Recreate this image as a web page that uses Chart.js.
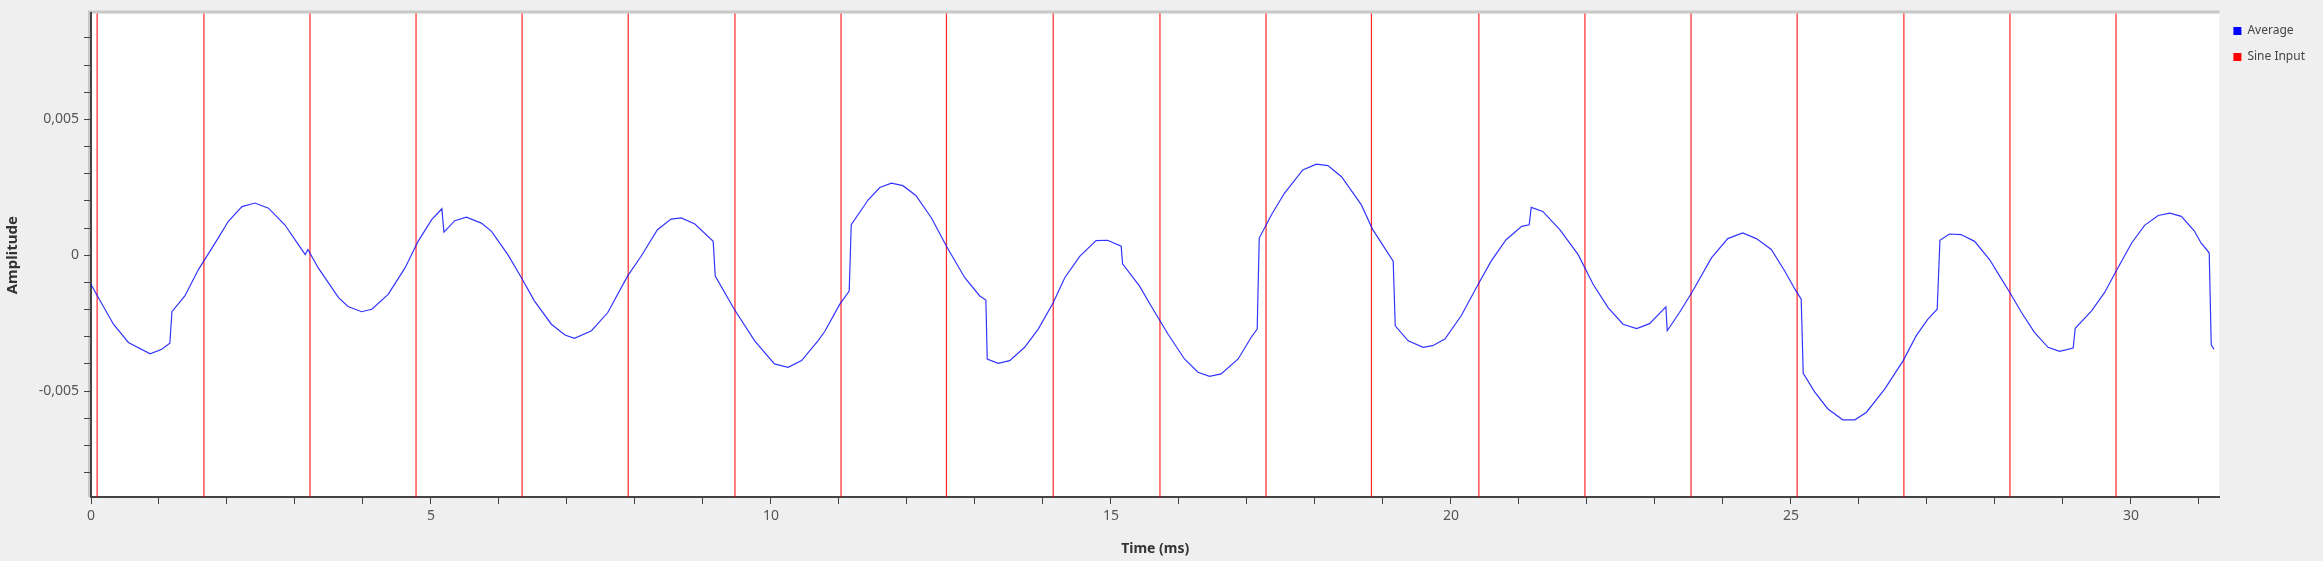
<!DOCTYPE html>
<html><head><meta charset="utf-8">
<script src="https://cdn.jsdelivr.net/npm/chart.js@4.4.1/dist/chart.umd.min.js"></script>
<style>html,body{margin:0;padding:0;background:#efefef;}#wrap{width:2323px;height:561px;}</style>
</head><body><div id="wrap"><canvas id="c"></canvas></div>
<script>
const avgTime = [0.00,0.08,0.33,0.55,0.87,1.04,1.16,1.19,1.38,1.58,1.87,2.02,2.22,2.41,2.61,2.85,3.05,3.15,3.19,3.34,3.64,3.78,3.98,4.13,4.37,4.62,4.81,5.01,5.16,5.19,5.35,5.52,5.74,5.89,6.13,6.33,6.52,6.77,6.97,7.11,7.36,7.60,7.89,8.09,8.33,8.53,8.68,8.88,9.15,9.18,9.46,9.76,10.05,10.25,10.45,10.69,10.79,11.01,11.15,11.18,11.43,11.60,11.77,11.94,12.13,12.36,12.58,12.85,13.07,13.16,13.18,13.34,13.51,13.73,13.93,14.15,14.32,14.54,14.78,14.95,15.15,15.17,15.42,15.59,15.84,16.08,16.28,16.45,16.62,16.87,17.06,17.15,17.18,17.36,17.55,17.82,18.02,18.19,18.39,18.68,18.85,19.15,19.18,19.37,19.59,19.73,19.91,20.15,20.40,20.59,20.81,21.04,21.15,21.18,21.35,21.60,21.87,22.09,22.31,22.53,22.73,22.92,23.16,23.18,23.36,23.54,23.83,24.07,24.29,24.49,24.71,24.91,25.06,25.15,25.18,25.35,25.54,25.76,25.94,26.11,26.38,26.65,26.84,27.01,27.15,27.19,27.33,27.50,27.70,27.92,28.04,28.22,28.39,28.58,28.78,28.95,29.15,29.18,29.42,29.61,29.78,30.01,30.20,30.40,30.57,30.74,30.93,31.03,31.15,31.18,31.22];
const avgAmp = [-0.00107,-0.00144,-0.00254,-0.00321,-0.00363,-0.00346,-0.00324,-0.00208,-0.00150,-0.00053,0.00063,0.00125,0.00179,0.00192,0.00173,0.00112,0.00039,0.00002,0.00021,-0.00046,-0.00156,-0.00189,-0.00208,-0.00199,-0.00144,-0.00046,0.00051,0.00131,0.00171,0.00085,0.00127,0.00140,0.00118,0.00088,0.00002,-0.00083,-0.00168,-0.00254,-0.00294,-0.00306,-0.00278,-0.00211,-0.00077,-0.00004,0.00094,0.00133,0.00137,0.00115,0.00051,-0.00077,-0.00199,-0.00315,-0.00400,-0.00413,-0.00388,-0.00315,-0.00281,-0.00181,-0.00132,0.00112,0.00204,0.00249,0.00265,0.00256,0.00220,0.00137,0.00033,-0.00083,-0.00150,-0.00165,-0.00382,-0.00398,-0.00388,-0.00339,-0.00272,-0.00175,-0.00083,-0.00004,0.00054,0.00055,0.00033,-0.00032,-0.00114,-0.00187,-0.00291,-0.00382,-0.00431,-0.00446,-0.00437,-0.00382,-0.00303,-0.00272,0.00063,0.00149,0.00228,0.00314,0.00335,0.00330,0.00289,0.00186,0.00094,-0.00022,-0.00260,-0.00315,-0.00339,-0.00333,-0.00309,-0.00223,-0.00107,-0.00022,0.00057,0.00106,0.00112,0.00176,0.00161,0.00094,0.00002,-0.00107,-0.00193,-0.00254,-0.00270,-0.00252,-0.00190,-0.00278,-0.00211,-0.00138,-0.00010,0.00061,0.00082,0.00061,0.00021,-0.00059,-0.00126,-0.00162,-0.00435,-0.00504,-0.00565,-0.00606,-0.00606,-0.00578,-0.00492,-0.00388,-0.00297,-0.00236,-0.00199,0.00055,0.00078,0.00076,0.00051,-0.00016,-0.00065,-0.00138,-0.00211,-0.00284,-0.00339,-0.00354,-0.00342,-0.00269,-0.00205,-0.00138,-0.00059,0.00045,0.00110,0.00146,0.00155,0.00143,0.00090,0.00045,0.00009,-0.00329,-0.00346];
const sineEdgeTime = [0.09,1.66,3.22,4.78,6.34,7.90,9.47,11.03,12.58,14.15,15.72,17.28,18.83,20.41,21.97,23.53,25.09,26.66,28.22,29.78];
const sineEdgeAmp = [-1, 1];
const yTickValues = [-0.008,-0.007,-0.006,-0.005,-0.004,-0.003,-0.002,-0.001,0,0.001,0.002,0.003,0.004,0.005,0.006,0.007,0.008];
const xTickValues = [0,1,2,3,4,5,6,7,8,9,10,11,12,13,14,15,16,17,18,19,20,21,22,23,24,25,26,27,28,29,30,31];
const xLabelValues = [0,5,10,15,20,25,30];
const yLabelValues = [-0.005,0,0.005];

const avgData = avgTime.map((t,i)=>({x:t,y:avgAmp[i]}));
const sineData = [];
sineEdgeTime.forEach(t=>{ sineData.push({x:t,y:sineEdgeAmp[0]}); sineData.push({x:t,y:sineEdgeAmp[1]}); sineData.push({x:t,y:null}); });

const bgPlugin = {
  id:'bg',
  beforeDraw(chart){
    const {ctx, chartArea:a} = chart;
    ctx.save();
    ctx.fillStyle='#ffffff';
    ctx.fillRect(a.left, a.top, a.right-a.left, a.bottom-a.top);
    ctx.strokeStyle='#c8c8c8'; ctx.lineWidth=3;
    ctx.beginPath(); ctx.moveTo(a.left-1.5, a.bottom); ctx.lineTo(a.left-1.5, a.top-1.5); ctx.lineTo(a.right, a.top-1.5); ctx.stroke();
    ctx.restore();
  }
};
const fmt = v => { const m = yLabelValues.find(l=>Math.abs(l-v)<1e-9); return m===undefined ? '' : (m===0?'0':String(m).replace('.',',')); };

new Chart(document.getElementById('c'), {
  type:'line',
  data:{datasets:[
    {label:'Average', data:avgData, borderColor:'rgba(0,0,255,0.8)', backgroundColor:'#0000ff', borderWidth:1.2, pointRadius:0, tension:0, order:0},
    {label:'Sine Input', data:sineData, borderColor:'rgba(255,0,0,0.85)', backgroundColor:'#ff0000', borderWidth:1.2, pointRadius:0, spanGaps:false, order:1}
  ]},
  options:{
    responsive:true, maintainAspectRatio:false, animation:false,
    layout:{padding:{top:11,right:8,left:0,bottom:0}},
    plugins:{
      legend:{position:'right', align:'start',
        labels:{boxWidth:8, boxHeight:8, useBorderRadius:false, padding:14, color:'#444', font:{family:'Noto Sans', size:12},
          generateLabels(chart){ return chart.data.datasets.map((d,i)=>({text:d.label, fillStyle:d.backgroundColor, strokeStyle:d.backgroundColor, lineWidth:0, datasetIndex:i, fontColor:'#444'})); }}},
      tooltip:{enabled:false}
    },
    scales:{
      x:{type:'linear', min:0, max:31.3,
        afterBuildTicks(s){ s.ticks = xTickValues.map(v=>({value:v})); },
        afterFit(s){ s.height = 64; },
        grid:{drawOnChartArea:false, color:'#444', tickLength:7, tickWidth:1},
        border:{color:'#444', width:2},
        ticks:{autoSkip:false, maxRotation:0, color:'#555', font:{family:'Noto Sans', size:14}, padding:4,
          callback:v=> xLabelValues.includes(v)?String(v):''},
        title:{display:true, text:'Time (ms)', color:'#333', font:{family:'Noto Sans', size:14, weight:'bold'}, padding:{top:0}}
      },
      y:{type:'linear', min:-0.0089, max:0.0089,
        afterBuildTicks(s){ s.ticks = yTickValues.map(v=>({value:v})); },
        afterFit(s){ s.width = 91; },
        grid:{drawOnChartArea:false, color:'#444', tickLength:7, tickWidth:1},
        border:{color:'#444', width:2},
        ticks:{autoSkip:false, color:'#555', font:{family:'Noto Sans', size:14}, padding:5, callback:v=>fmt(v)},
        title:{display:true, text:'Amplitude', color:'#333', font:{family:'Noto Sans', size:15, weight:'bold'}, padding:{bottom:0}}
      }
    }
  },
  plugins:[bgPlugin]
});
</script></body></html>
